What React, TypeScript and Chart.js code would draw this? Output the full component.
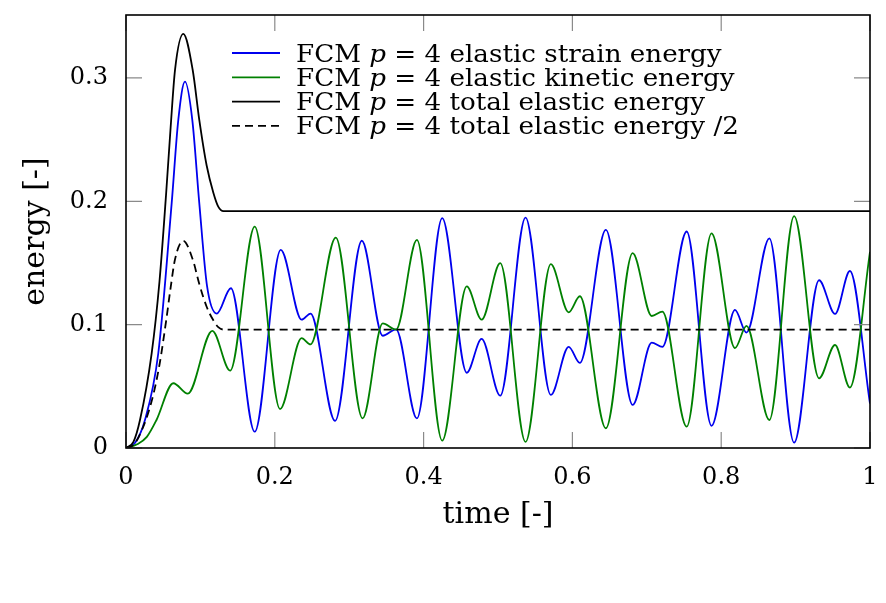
import { useEffect, useRef } from 'react';
import { Chart, registerables } from 'chart.js';

Chart.register(...registerables);

// ---------- data ----------
const xTicks = [0, 0.2, 0.4, 0.6, 0.8, 1];
const yTicks = [0, 0.1, 0.2, 0.3];

const seriesLabels = [
  'elastic strain energy',
  'elastic kinetic energy',
  'total elastic energy',
  'total elastic energy /2',
];

const strainTime = [0, 0.012, 0.0255, 0.0434, 0.0614, 0.0703, 0.0793, 0.0891, 0.0985, 0.109, 0.122, 0.141, 0.173, 0.208, 0.236, 0.248, 0.281, 0.317, 0.345, 0.363, 0.391, 0.425, 0.458, 0.478, 0.503, 0.537, 0.571, 0.595, 0.61, 0.645, 0.681, 0.7066, 0.721, 0.7536, 0.787, 0.8185, 0.834, 0.8647, 0.898, 0.9315, 0.953, 0.973, 1.0];
const strainEnergy = [0, 0.004, 0.0227, 0.0768, 0.1985, 0.266, 0.297, 0.266, 0.1985, 0.131, 0.109, 0.1295, 0.0132, 0.1606, 0.104, 0.109, 0.022, 0.168, 0.091, 0.0962, 0.024, 0.1863, 0.061, 0.0884, 0.0424, 0.1868, 0.043, 0.082, 0.069, 0.1768, 0.0349, 0.0854, 0.082, 0.1755, 0.018, 0.112, 0.0935, 0.17, 0.0043, 0.136, 0.1087, 0.1435, 0.036];

const kineticTime = [0, 0.015, 0.028, 0.041, 0.0636, 0.083, 0.116, 0.14, 0.173, 0.207, 0.236, 0.248, 0.282, 0.318, 0.345, 0.363, 0.391, 0.425, 0.458, 0.478, 0.503, 0.537, 0.571, 0.595, 0.61, 0.645, 0.681, 0.7066, 0.721, 0.7536, 0.787, 0.8185, 0.834, 0.8647, 0.898, 0.9315, 0.953, 0.973, 1.0];
const kineticEnergy = [0, 0.003, 0.009, 0.0227, 0.0525, 0.044, 0.095, 0.0627, 0.1795, 0.0316, 0.089, 0.084, 0.1706, 0.024, 0.101, 0.096, 0.1687, 0.006, 0.131, 0.104, 0.1498, 0.005, 0.149, 0.11, 0.123, 0.016, 0.158, 0.107, 0.1106, 0.0173, 0.174, 0.081, 0.099, 0.0227, 0.188, 0.0565, 0.0835, 0.049, 0.159];

const totalTime = [0, 0.01, 0.0188, 0.0345, 0.045, 0.0538, 0.06, 0.0659, 0.077, 0.0896, 0.0985, 0.1084, 0.1174, 0.124, 0.131, 1.0];
const totalEnergy = [0, 0.005, 0.0227, 0.0768, 0.135, 0.205, 0.26, 0.3066, 0.3357, 0.3066, 0.266, 0.229, 0.207, 0.1957, 0.192, 0.192];

const halfTime = [0, 0.01, 0.0188, 0.0345, 0.045, 0.0538, 0.06, 0.0659, 0.077, 0.0896, 0.0985, 0.1084, 0.1174, 0.124, 0.131, 1.0];
const halfEnergy = [0, 0.0025, 0.011, 0.038, 0.0675, 0.1025, 0.13, 0.153, 0.168, 0.153, 0.133, 0.1145, 0.1035, 0.098, 0.096, 0.096];

// ---------- styles ----------
const FONT = '"DejaVu Serif", "Liberation Serif", serif';
const BLUE = '#0000ee';
const GREEN = '#008000';
const BLACK = '#000000';
const TICK_LEN = 16;
const LINE_W = 1.8;

const toPoints = (t: number[], v: number[]) => t.map((x, i) => ({ x, y: v[i] }));
const fmt = (v: number) => String(Number(v.toFixed(2)));

const frameTicksPlugin = {
  id: 'frameTicks',
  afterDatasetsDraw(chart: any) {
    const { ctx, chartArea: a, scales } = chart;
    ctx.save();
    ctx.strokeStyle = '#8a8a8a';
    ctx.lineWidth = 1.2;
    ctx.beginPath();
    for (const v of xTicks) {
      const px = scales.x.getPixelForValue(v);
      ctx.moveTo(px, a.bottom);
      ctx.lineTo(px, a.bottom - TICK_LEN);
      ctx.moveTo(px, a.top);
      ctx.lineTo(px, a.top + TICK_LEN);
    }
    for (const v of yTicks) {
      const py = scales.y.getPixelForValue(v);
      ctx.moveTo(a.left, py);
      ctx.lineTo(a.left + TICK_LEN, py);
      ctx.moveTo(a.right, py);
      ctx.lineTo(a.right - TICK_LEN, py);
    }
    ctx.stroke();
    ctx.strokeStyle = '#000';
    ctx.lineWidth = 1.6;
    ctx.strokeRect(a.left, a.top, a.right - a.left, a.bottom - a.top);
    ctx.restore();
  },
};

const legendPlugin = {
  id: 'texLegend',
  afterDraw(chart: any) {
    const { ctx } = chart;
    const x0 = 232;
    const lineLen = 48;
    const textX = 296;
    const y0 = 53;
    const rowH = 24.3;
    const size = 24;
    const stretch = 1.09;
    ctx.save();
    chart.data.datasets.forEach((ds: any, i: number) => {
      const y = y0 + i * rowH;
      ctx.strokeStyle = ds.borderColor;
      ctx.lineWidth = ds.borderWidth;
      ctx.setLineDash(ds.borderDash || []);
      ctx.beginPath();
      ctx.moveTo(x0, y);
      ctx.lineTo(x0 + lineLen, y);
      ctx.stroke();
      ctx.setLineDash([]);
      ctx.save();
      ctx.translate(textX, y + 8.5);
      ctx.scale(stretch, 1);
      ctx.fillStyle = '#000';
      ctx.textBaseline = 'alphabetic';
      let x = 0;
      ctx.font = `${size}px ${FONT}`;
      ctx.fillText('FCM ', x, 0);
      x += ctx.measureText('FCM ').width;
      ctx.font = `italic ${size}px ${FONT}`;
      ctx.fillText('p', x, 0);
      x += ctx.measureText('p').width;
      ctx.font = `${size}px ${FONT}`;
      ctx.fillText(' = 4 ' + seriesLabels[i], x, 0);
      ctx.restore();
    });
    ctx.restore();
  },
};

export default function App() {
  const ref = useRef<HTMLCanvasElement | null>(null);

  useEffect(() => {
    if (!ref.current) return;
    const chart = new Chart(ref.current, {
      type: 'line',
      data: {
        datasets: [
          {
            label: seriesLabels[0],
            data: toPoints(strainTime, strainEnergy),
            borderColor: BLUE,
            borderWidth: LINE_W,
            order: 4,
          },
          {
            label: seriesLabels[1],
            data: toPoints(kineticTime, kineticEnergy),
            borderColor: GREEN,
            borderWidth: LINE_W,
            order: 3,
          },
          {
            label: seriesLabels[2],
            data: toPoints(totalTime, totalEnergy),
            borderColor: BLACK,
            borderWidth: LINE_W,
            order: 2,
          },
          {
            label: seriesLabels[3],
            data: toPoints(halfTime, halfEnergy),
            borderColor: BLACK,
            borderWidth: LINE_W,
            borderDash: [8, 5],
            order: 1,
          },
        ] as any,
      },
      options: {
        animation: false,
        responsive: false,
        elements: {
          point: { radius: 0 },
          line: { cubicInterpolationMode: 'monotone', fill: false },
        },
        layout: { padding: { left: 0, right: 16, top: 15, bottom: 0 } },
        plugins: {
          legend: { display: false },
          tooltip: { enabled: false },
        },
        scales: {
          x: {
            type: 'linear',
            min: 0,
            max: 1,
            grid: { display: false, drawTicks: false },
            border: { display: false },
            afterBuildTicks: (s: any) => {
              s.ticks = xTicks.map((value) => ({ value }));
            },
            afterFit: (s: any) => {
              s.height = 155;
              s.paddingLeft = 0;
              s.paddingRight = 0;
            },
            ticks: {
              color: '#000',
              padding: 15,
              maxRotation: 0,
              autoSkip: false,
              font: { family: FONT, size: 24 },
              callback: (v: any) => fmt(Number(v)),
            },
            title: {
              display: true,
              text: 'time [-]',
              color: '#000',
              font: { family: FONT, size: 30 },
              padding: { top: 0, bottom: 70 },
            },
          },
          y: {
            type: 'linear',
            min: 0,
            max: 0.351,
            grid: { display: false, drawTicks: false },
            border: { display: false },
            afterBuildTicks: (s: any) => {
              s.ticks = yTicks.map((value) => ({ value }));
            },
            afterFit: (s: any) => {
              s.width = 126;
              s.paddingTop = 0;
              s.paddingBottom = 0;
            },
            ticks: {
              color: '#000',
              padding: 18,
              autoSkip: false,
              font: { family: FONT, size: 24 },
              callback: (v: any) => fmt(Number(v)),
            },
            title: {
              display: true,
              text: 'energy [-]',
              color: '#000',
              font: { family: FONT, size: 30 },
              padding: { top: 18, bottom: 0 },
            },
          },
        },
      },
      plugins: [frameTicksPlugin, legendPlugin],
    });
    return () => chart.destroy();
  }, []);

  return (
    <div style={{ position: 'absolute', left: 0, top: 0, width: 886, height: 603, background: '#fff' }}>
      <canvas ref={ref} width={886} height={603} style={{ display: 'block', width: 886, height: 603 }} />
    </div>
  );
}
